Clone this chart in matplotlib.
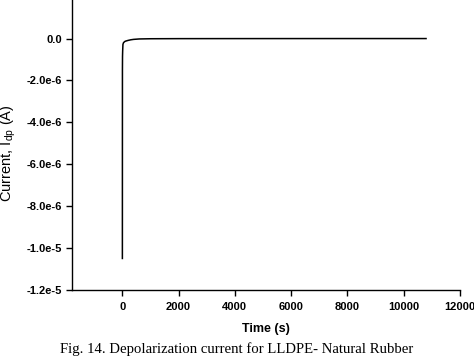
import matplotlib.pyplot as plt

# depolarization current data
time_s = [0, 2, 5, 10, 20, 40, 70, 100, 150, 200, 300, 400, 500, 600,
          1000, 2000, 4000, 6000, 8000, 10000, 10800]
current_a = [-1.05e-5, -1.5e-6, -8.5e-7, -6.0e-7, -2.8e-7, -2.0e-7, -1.6e-7,
             -1.3e-7, -1.1e-7, -9e-8, -6e-8, -4e-8, -3e-8, -2e-8,
             -1e-8, -5e-9, -3e-9, -2e-9, -1e-9, -1e-9, -1e-9]

x_ticks = [0, 2000, 4000, 6000, 8000, 10000, 12000]
y_ticks = [0.0, -2.0e-6, -4.0e-6, -6.0e-6, -8.0e-6, -1.0e-5, -1.2e-5]
y_tick_labels = ['0.0', '-2.0e-6', '-4.0e-6', '-6.0e-6', '-8.0e-6', '-1.0e-5', '-1.2e-5']

fig = plt.figure(figsize=(4.74, 3.61), dpi=100)
ax = fig.add_axes([0.152, 0.197, 0.818, 0.803])

ax.plot(time_s, current_a, color='black', lw=1.1)

ax.set_xlim(-1790, 12000)
ax.set_ylim(-1.2e-5, 1.84e-6)
ax.set_xticks(x_ticks)
ax.set_xticklabels([str(t) for t in x_ticks], fontfamily='Liberation Sans',
                   fontweight='bold', fontsize=8)
ax.set_yticks(y_ticks)
ax.set_yticklabels(y_tick_labels, fontfamily='Liberation Sans',
                   fontweight='bold', fontsize=8)
ax.tick_params(axis='x', direction='out', length=4, width=1, pad=5)
ax.tick_params(axis='y', direction='out', length=4.5, width=1, pad=2.5)

for side in ['top', 'right']:
    ax.spines[side].set_visible(False)
for side in ['left', 'bottom']:
    ax.spines[side].set_linewidth(1)

ax.set_xlabel('Time (s)', fontfamily='Liberation Sans', fontweight='bold',
              fontsize=9, labelpad=8)
ax.set_ylabel('Current, I$_{\\mathregular{dp}}$ (A)', fontfamily='Liberation Sans',
              fontsize=10.5)
ax.yaxis.set_label_coords(-0.139, 0.472)

fig.text(0.499, 0.032, 'Fig. 14. Depolarization current for LLDPE- Natural Rubber',
         fontfamily='Liberation Serif', fontsize=10.6, ha='center', va='center')

fig.savefig('out.png', dpi=100)
